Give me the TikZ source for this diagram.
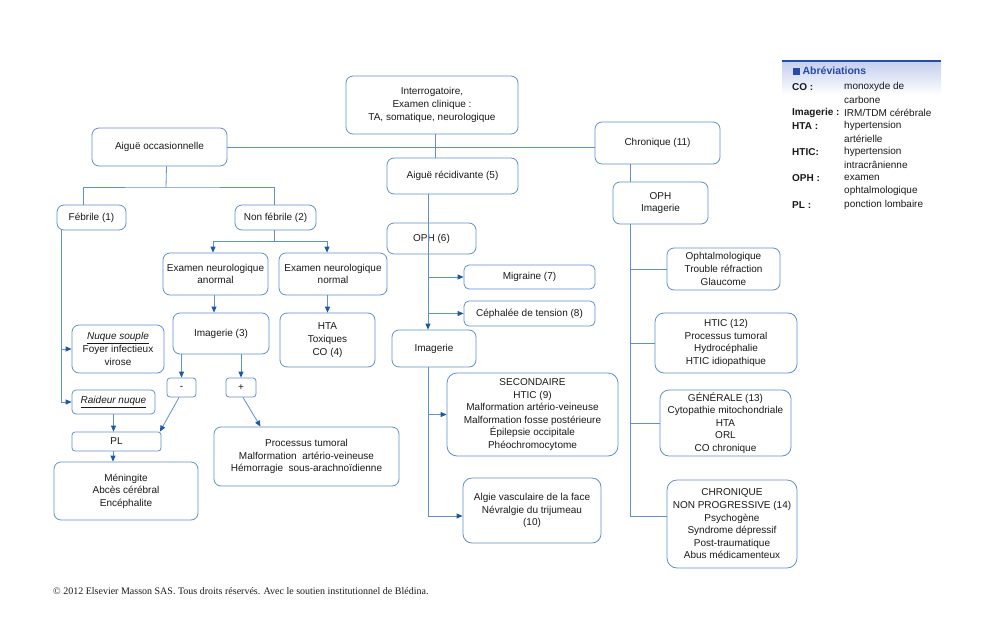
\documentclass[tikz,border=0pt]{standalone}
\usepackage{fontspec}
\setmainfont{Liberation Sans}
\newfontfamily\footfont{Liberation Serif}
\usetikzlibrary{arrows.meta}
\definecolor{boxblue}{RGB}{96,143,206}
\definecolor{tipblue}{RGB}{30,86,168}
\definecolor{txt}{RGB}{25,25,25}
\definecolor{headblue}{RGB}{38,74,168}
\definecolor{headfill}{RGB}{196,206,238}
\begin{document}
\begin{tikzpicture}[x=1pt,y=-1pt,
  bx/.style 2 args={draw=boxblue, line width=0.8pt, rounded corners=7pt, align=center,
    inner sep=1pt, minimum width=#1, minimum height=#2, text=txt,
    font=\fontsize{10}{12.6}\selectfont},
  ln/.style={draw=boxblue, line width=0.8pt},
  arr/.style={ln, -{Triangle[length=6pt,width=5pt,color=tipblue]}},
  lg/.style={anchor=west, inner sep=0pt, text=txt, font=\fontsize{10}{12}\selectfont}]
\useasboundingbox (0,0) rectangle (1000,623);

% ---- boxes
\node[bx={172pt}{58pt}] (intro) at (432,105) {Interrogatoire,\\Examen clinique :\\TA, somatique, neurologique};
\node[bx={135pt}{38pt}] (aocc) at (159.5,147) {Aiguë occasionnelle};
\node[bx={125pt}{42pt}] (chron) at (657.5,143) {Chronique (11)};
\node[bx={131pt}{36pt}] (arec) at (452.5,176) {Aiguë récidivante (5)};
\node[bx={69pt}{25pt}] (feb) at (91.5,217.5) {Fébrile (1)};
\node[bx={81pt}{25pt}] (nfeb) at (275.5,217.5) {Non fébrile (2)};
\node[bx={89pt}{31pt}] (oph6) at (431.5,238.5) {OPH (6)};
\node[bx={105pt}{42pt}] (exa) at (215.5,274) {Examen neurologique\\anormal};
\node[bx={108pt}{42pt}] (exn) at (333,274) {Examen neurologique\\normal};
\node[bx={96pt}{41pt}] (img3) at (221,333.5) {Imagerie (3)};
\node[bx={95pt}{54pt}] (hta) at (327.5,340) {HTA\\Toxiques\\CO (4)};
\node[bx={29pt}{19pt}, rounded corners=3pt] (minus) at (181.5,387.5) {-};
\node[bx={30pt}{19pt}, rounded corners=3pt] (plus) at (241,387.5) {+};
\node[bx={92pt}{48pt}] (nuq) at (118,349) {\underline{\textit{Nuque souple}}\\Foyer infectieux\\virose};
\node[bx={83pt}{24pt}, rounded corners=4pt] (raid) at (113.5,402) {\underline{\textit{Raideur nuque}}};
\node[bx={89pt}{19pt}, rounded corners=3pt] (pl) at (116.5,441.5) {PL};
\node[bx={144pt}{58pt}] (men) at (126,491) {Méningite\\Abcès cérébral\\Encéphalite};
\node[bx={185pt}{59pt}] (proc) at (306.5,456.5) {Processus tumoral\\Malformation~ artério-veineuse\\Hémorragie~ sous-arachnoïdienne};
\node[bx={131pt}{24pt}, rounded corners=5pt] (migr) at (529.5,277) {Migraine (7)};
\node[bx={131pt}{25pt}, rounded corners=5pt] (ceph) at (529.5,313.5) {Céphalée de tension (8)};
\node[bx={84pt}{37pt}] (img) at (434,348.5) {Imagerie};
\node[bx={171pt}{83pt}, rounded corners=10pt] (sec) at (532.5,414.5) {SECONDAIRE\\HTIC (9)\\Malformation artério-veineuse\\Malformation fosse postérieure\\Épilepsie occipitale\\Phéochromocytome};
\node[bx={138pt}{65pt}, rounded corners=9pt] (alg) at (532,510.5) {Algie vasculaire de la face\\Névralgie du trijumeau\\(10)};
\node[bx={95pt}{42pt}] (ophi) at (660.5,203) {OPH\\Imagerie};
\node[bx={113pt}{42pt}] (ophta) at (723.5,269) {Ophtalmologique\\Trouble réfraction\\Glaucome};
\node[bx={142pt}{60pt}, rounded corners=9pt] (htic) at (726,343) {HTIC (12)\\Processus tumoral\\Hydrocéphalie\\HTIC idiopathique};
\node[bx={131pt}{66pt}, rounded corners=9pt] (gen) at (725.5,423) {GÉNÉRALE (13)\\Cytopathie mitochondriale\\HTA\\ORL\\CO chronique};
\node[bx={130pt}{88pt}, rounded corners=10pt] (cnp) at (732,524) {CHRONIQUE\\NON PROGRESSIVE (14)\\Psychogène\\Syndrome dépressif\\Post-traumatique\\Abus médicamenteux};

% ---- connectors
\draw[ln] (aocc.east) -- (aocc.east -| chron.west);
\draw[ln] ([xshift=3pt]intro.south) -- ([xshift=3pt]intro.south |- arec.north);

\coordinate (b1) at (166,187);
\draw[ln] ([xshift=7pt]aocc.south) -- (b1);
\draw[ln] ([xshift=-8.5pt]feb.north) |- (b1) -| ([xshift=-1.5pt]nfeb.north);

\coordinate (vf) at (61,230);
\draw[arr] (vf) |- (nuq.west);
\draw[arr] (vf) |- (raid.west);

\coordinate (b2) at (274,241);
\draw[ln] (b2 |- nfeb.south) -- (b2);
\draw[arr] (b2) -| ([xshift=-2.5pt]exa.north);
\draw[arr] (b2) -| ([xshift=-6pt]exn.north);
\draw[arr] ([xshift=-1.5pt]exa.south) -- ([xshift=-1.5pt]exa.south |- img3.north);
\draw[arr] (hta.north |- exn.south) -- (hta.north);
\draw[arr] (minus.north |- img3.south) -- (minus.north);
\draw[arr] (plus.north |- img3.south) -- (plus.north);
\draw[arr] ([xshift=-2.5pt]minus.south) -- ([xshift=-1.5pt]pl.north east);
\draw[arr] ([xshift=2pt]plus.south) -- ([xshift=-46pt]proc.north);
\draw[arr] (raid.south) -- (raid.south |- pl.north);
\draw[arr] ([xshift=-3.5pt]pl.south) -- ([xshift=-3.5pt]pl.south |- men.north);

\coordinate (v6) at (428,254);
\draw[ln] (v6 |- arec.south) -- (v6);
\draw[arr] (v6) -- (v6 |- img.north);
\draw[arr] (v6 |- migr.west) -- (migr.west);
\draw[arr] (v6 |- ceph.west) -- (ceph.west);

\coordinate (vi) at (428,367);
\draw[arr] (vi) |- ([yshift=-5.5pt]alg.west);
\draw[arr] (vi |- sec.west) -- (sec.west);

\coordinate (vr) at (630,164);
\draw[ln] (vr) -- (vr |- ophi.north);
\coordinate (vr2) at (630,224);
\draw[ln] (vr2) |- ([yshift=8pt]cnp.west);
\draw[ln] (vr2 |- ophta.west) -- (ophta.west);
\draw[ln] (vr2 |- htic.west) -- (htic.west);
\draw[ln] (vr2 |- gen.west) -- (gen.west);

% ---- legend
\shade[top color=headfill, bottom color=white] (782,61) rectangle (941,95);
\draw[headblue, line width=1.6pt] (782,61) -- (941,61);
\node[lg, text=headblue, font=\fontsize{10.5}{12}\selectfont\bfseries] (lh) at (793,71) {\rule{6.5pt}{6.5pt} Abréviations};
\node[lg] (l1) at (792,87) {\textbf{CO :}};
\node[lg] (v1) at (844,87) {monoxyde de};
\node[lg] (v1b) at (844,100) {carbone};
\node[lg] (l2) at (792,113) {\textbf{Imagerie :}};
\node[lg] (v2) at (844,113) {IRM/TDM cérébrale};
\node[lg] (l3) at (792,126) {\textbf{HTA :}};
\node[lg] (v3) at (844,126) {hypertension};
\node[lg] (v3b) at (844,139) {artérielle};
\node[lg] (l4) at (792,152) {\textbf{HTIC:}};
\node[lg] (v4) at (844,152) {hypertension};
\node[lg] (v4b) at (844,165) {intracrânienne};
\node[lg] (l5) at (792,178) {\textbf{OPH :}};
\node[lg] (v5) at (844,178) {examen};
\node[lg] (v5b) at (844,191) {ophtalmologique};
\node[lg] (l6) at (792,205) {\textbf{PL :}};
\node[lg] (v6t) at (844,205) {ponction lombaire};

% ---- footer
\node[anchor=west, inner sep=0pt, text=txt, font=\footfont\fontsize{10}{12}\selectfont] (foot) at (53,591) {© 2012 Elsevier Masson SAS. Tous droits réservés. Avec le soutien institutionnel de Blédina.};
\end{tikzpicture}
\end{document}
